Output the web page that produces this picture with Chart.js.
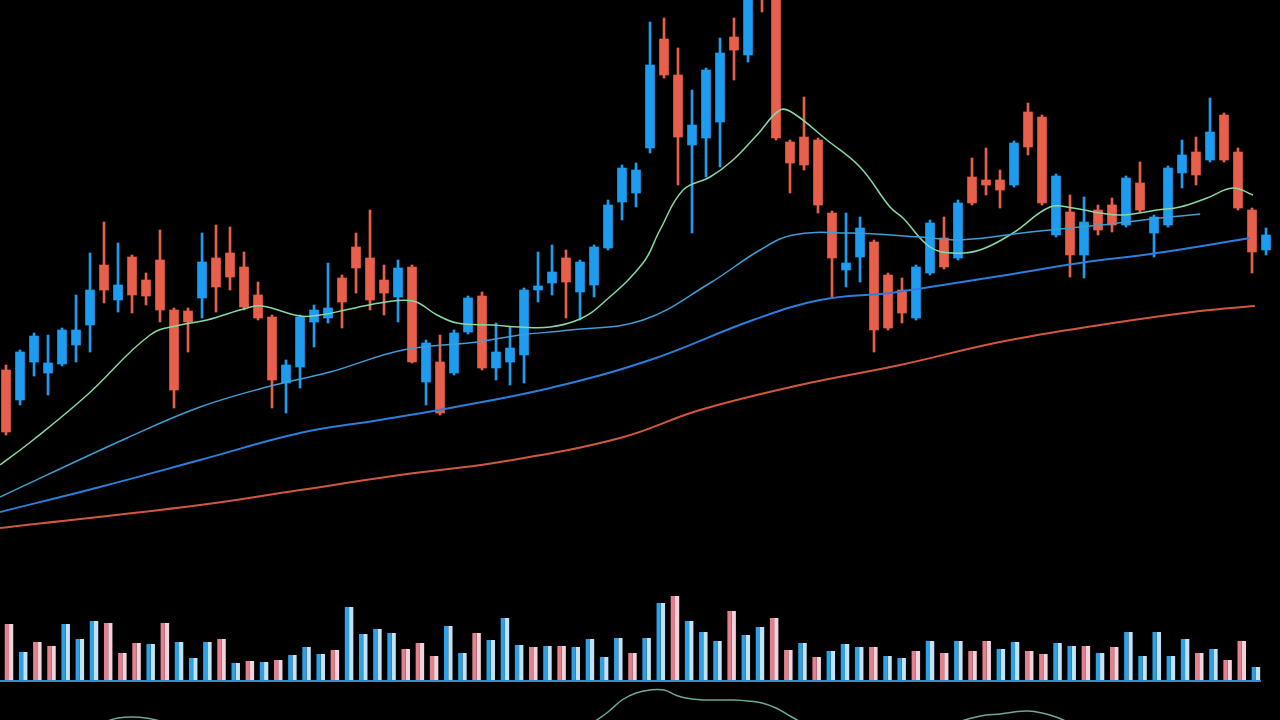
<!DOCTYPE html>
<html>
<head>
<meta charset="utf-8">
<script src="https://cdn.jsdelivr.net/npm/chart.js@4.4.1/dist/chart.umd.min.js"></script>
<style>
  html, body { margin: 0; padding: 0; background: #000; overflow: hidden; }
  canvas { position: absolute; left: 0; display: block; }
  #priceChart { top: 0; }
  #volChart { top: 580px; }
  #indChart { top: 682px; }
</style>
</head>
<body>
<canvas id="priceChart" width="1280" height="600"></canvas>
<canvas id="volChart" width="1280" height="102"></canvas>
<canvas id="indChart" width="1280" height="38"></canvas>
<script>
// Candles (one per session)
const opens  = [41.5,40.0,41.9,41.35,41.8,42.75,43.75,46.75,45.0,47.15,46.0,47.0,44.5,44.45,45.1,47.1,47.35,46.65,45.25,44.15,40.85,41.65,43.9,44.1,46.1,47.65,47.1,46.0,45.15,46.65,40.9,41.9,41.35,43.4,45.2,41.6,41.9,42.25,45.5,45.85,47.1,45.4,45.75,47.6,49.9,50.35,52.6,58.05,56.25,52.75,53.1,53.9,58.15,57.25,61.5,60.25,52.9,53.15,53.0,49.35,46.5,47.15,47.9,46.25,45.5,44.1,46.35,48.1,47.1,51.15,51.0,51.0,50.75,54.4,54.15,48.25,49.4,47.25,49.5,49.75,48.75,50.85,48.35,48.75,51.35,52.4,52.0,54.25,52.4,49.5,47.5];
const highs  = [41.75,42.5,43.35,43.25,43.6,45.25,47.35,48.9,47.85,47.25,46.35,48.5,44.6,44.6,48.35,48.75,48.65,47.4,45.9,44.25,42.0,44.25,44.75,46.85,46.25,48.35,49.5,46.75,47.0,46.75,43.0,43.25,43.5,45.2,45.4,43.85,43.65,45.6,47.4,47.75,47.5,47.0,47.75,50.0,51.75,51.85,58.9,59.1,57.6,55.5,56.6,58.1,59.1,60.75,62.0,60.5,53.0,55.15,53.1,49.45,49.35,49.15,48.0,46.35,46.1,46.75,49.0,49.15,50.0,52.1,52.6,51.5,52.95,54.85,54.25,51.3,50.25,50.15,49.75,50.1,51.2,51.9,49.25,51.7,53.0,53.15,55.1,54.35,52.6,49.6,48.6];
const lows   = [38.25,39.75,41.2,40.25,41.7,41.9,42.4,44.85,44.4,44.35,44.75,43.9,39.6,42.4,44.1,44.4,45.5,44.5,44.0,39.6,39.35,40.6,42.65,43.85,43.6,45.35,44.5,44.25,43.9,41.85,39.75,39.25,41.25,43.3,41.5,41.0,40.75,40.85,44.9,45.25,44.1,44.0,45.15,47.5,49.0,49.65,52.35,56.1,50.75,48.35,51.15,51.65,56.0,56.9,59.4,53.0,50.35,51.5,49.35,45.15,45.65,45.9,42.4,43.5,43.85,44.0,46.25,46.55,47.0,49.75,50.25,49.6,50.65,52.25,49.75,48.15,46.15,46.1,48.25,48.4,48.65,49.4,47.15,48.65,50.6,50.75,51.9,51.9,49.5,46.35,47.25];
const closes = [38.4,42.4,43.2,41.85,43.5,43.5,45.5,45.5,45.75,45.25,45.2,44.5,40.5,43.9,46.9,45.65,46.15,44.65,44.1,41.0,41.75,44.15,44.5,44.6,44.9,46.6,45.0,45.35,46.6,41.9,42.85,39.35,43.35,45.1,41.6,42.4,42.6,45.5,45.7,46.4,45.9,46.9,47.65,49.75,51.6,51.5,56.75,56.25,53.15,53.75,56.5,57.35,57.5,60.5,60.25,53.1,51.85,51.75,49.75,47.1,46.85,48.6,43.5,43.6,44.35,46.65,48.85,46.65,49.85,49.85,50.75,50.5,52.85,52.65,49.85,51.2,47.25,48.9,48.5,48.75,51.1,49.5,49.15,51.6,52.25,51.25,53.4,52.0,49.6,47.4,48.25];

// Moving averages, sampled along each line (session index, price)
const maShortX = [-0.43,1.93,5.79,10.29,12.43,14.36,17.21,18.29,21.0,22.43,24.57,26.71,29.07,30.79,32.21,34.79,36.71,38.86,41.0,42.64,45.5,46.71,48.36,50.29,51.93,53.64,55.29,56.21,58.64,61.0,63.14,64.07,66.0,67.64,69.57,71.93,74.57,76.21,78.14,79.79,82.21,83.86,85.79,87.64,89.07];
const maShortY = [36.75,38.0,40.25,43.25,43.75,44.0,44.6,44.7,44.2,44.25,44.55,44.85,44.95,44.25,43.85,43.75,43.65,43.65,44.05,44.85,46.85,48.5,50.5,51.15,52.0,53.25,54.5,54.35,53.0,51.65,49.65,49.1,47.65,47.35,47.5,48.35,49.65,49.6,49.35,49.25,49.5,49.65,50.1,50.6,50.25];
const maMidX = [-0.43,8.64,13.86,18.64,23.14,28.36,33.64,36.71,40.29,45.5,50.29,53.86,56.21,60.29,65.29,68.14,73.14,78.14,82.43,85.3];
const maMidY = [35.15,38.1,39.65,40.65,41.4,42.5,42.9,43.25,43.5,44.0,45.85,47.5,48.25,48.35,48.15,48.0,48.4,48.75,49.1,49.3];
const maLongX = [-0.43,6.71,13.86,21.0,26.71,31.71,38.86,46.0,53.36,58.14,63.14,66.0,71.0,76.71,82.21,88.86];
const maLongY = [34.4,35.65,37.0,38.35,39.0,39.6,40.6,42.0,44.0,45.0,45.35,45.65,46.2,46.85,47.35,48.1];
const maYearX = [-0.43,13.86,21.0,28.14,35.29,43.86,49.57,56.71,63.86,71.0,78.14,85.29,89.21];
const maYearY = [33.6,34.75,35.5,36.25,36.9,38.1,39.5,40.75,41.75,42.9,43.75,44.45,44.7];

// Volume pane
const volumes = [56,28,38,34,56,41,59,57,27,37,36,57,38,22,38,41,17,19,18,20,25,33,26,30,73,46,51,47,31,37,
                 24,54,27,47,40,62,35,33,34,34,33,41,23,42,27,42,77,84,59,48,39,69,45,53,62,30,37,23,29,
                 36,33,33,24,22,29,39,27,39,29,39,31,38,29,26,37,34,34,27,33,48,24,48,24,41,27,31,20,39,13];
const volUp = [0,1,0,0,1,1,1,0,0,0,1,0,1,1,1,0,1,0,1,0,1,1,1,0,1,1,1,1,0,0,
               0,1,1,0,1,1,1,0,1,0,1,1,1,1,0,1,1,0,1,1,1,0,1,1,0,0,1,0,1,
               1,1,0,1,1,0,1,0,1,0,0,1,1,0,0,1,1,0,1,0,1,1,1,1,1,0,1,0,0,1];

// Bottom oscillator (only the visible part)
const oscX = [7,8,9,10,11, null, 42,43,44,45,46,47,48,49,50,51,52,53,54,55,56,57, null, 68,69,70,71,72,73,74,75,76];
const oscY = [-2,2,3,2,-1, null, -2,8,20,27,30,30,24,21,20,20,20,19,17,12,4,-4, null, -2,2,5,6,8,9,7,3,-3];

const BLUE = '#1e9cf0';
const RED = '#e8604c';

const up = closes.map((c, i) => c >= opens[i]);
const candleColors = up.map(u => u ? BLUE : RED);

function pts(xs, ys) {
    return xs.map((x, i) => ({ x: x, y: ys[i] }));
}

function maLine(xs, ys, color, width) {
    return {
        type: 'line',
        data: pts(xs, ys),
        borderColor: color,
        borderWidth: width,
        pointRadius: 0,
        tension: 0.4,
        order: 0
    };
}

const xScale = {
    type: 'linear',
    min: -0.43,
    max: 91.0,
    display: false,
    offset: false
};

new Chart(document.getElementById('priceChart'), {
    type: 'bar',
    data: {
        datasets: [
            {
                data: opens.map((o, i) => ({ x: i, y: [lows[i], highs[i]] })),
                backgroundColor: candleColors,
                barThickness: 2,
                grouped: false,
                order: 2
            },
            {
                data: opens.map((o, i) => ({ x: i, y: [o, closes[i]] })),
                backgroundColor: candleColors,
                barThickness: 9,
                minBarLength: 2,
                grouped: false,
                order: 1
            },
            maLine(maYearX, maYearY, '#d2573f', 2),
            maLine(maLongX, maLongY, '#2a7fdc', 2),
            maLine(maMidX, maMidY, '#3d9fd6', 1.5),
            maLine(maShortX, maShortY, '#86d8a4', 1.5)
        ]
    },
    options: {
        responsive: false,
        animation: false,
        layout: { padding: 0 },
        plugins: { legend: { display: false }, tooltip: { enabled: false } },
        scales: {
            x: xScale,
            y: { min: 30, max: 60, display: false }
        }
    }
});

// Blue line under the volume bars
const baseline = {
    id: 'baseline',
    afterDatasetsDraw(chart) {
        const { ctx, chartArea, scales } = chart;
        const right = scales.x.getPixelForValue(volumes.length - 1) + 5;
        ctx.save();
        ctx.strokeStyle = '#2b8fd0';
        ctx.lineWidth = 2;
        ctx.beginPath();
        ctx.moveTo(chartArea.left, chartArea.bottom + 1);
        ctx.lineTo(right, chartArea.bottom + 1);
        ctx.stroke();
        ctx.restore();
    }
};

new Chart(document.getElementById('volChart'), {
    type: 'bar',
    data: {
        datasets: [
            {
                data: volumes.map((v, i) => ({ x: i, y: v })),
                backgroundColor: volUp.map(u => u ? '#2f9fe6' : '#e2808e'),
                categoryPercentage: 0.6,
                barPercentage: 1.0
            },
            {
                data: volumes.map((v, i) => ({ x: i, y: v })),
                backgroundColor: volUp.map(u => u ? '#c4e2f6' : '#f2d2dc'),
                categoryPercentage: 0.6,
                barPercentage: 1.0
            }
        ]
    },
    options: {
        responsive: false,
        animation: false,
        layout: { padding: { bottom: 2 } },
        plugins: { legend: { display: false }, tooltip: { enabled: false } },
        scales: {
            x: { type: 'linear', min: -0.635, max: 89.7, display: false, offset: false },
            y: { min: 0, max: 100, display: false }
        }
    },
    plugins: [baseline]
});

new Chart(document.getElementById('indChart'), {
    type: 'line',
    data: {
        datasets: [{
            data: oscX.map((x, i) => ({ x: x, y: oscY[i] })),
            borderColor: '#6aa89a',
            borderWidth: 1.5,
            pointRadius: 0,
            tension: 0.4,
            spanGaps: false
        }]
    },
    options: {
        responsive: false,
        animation: false,
        layout: { padding: 0 },
        plugins: { legend: { display: false }, tooltip: { enabled: false } },
        scales: {
            x: xScale,
            y: { min: 0, max: 38, display: false }
        }
    }
});
</script>
</body>
</html>
